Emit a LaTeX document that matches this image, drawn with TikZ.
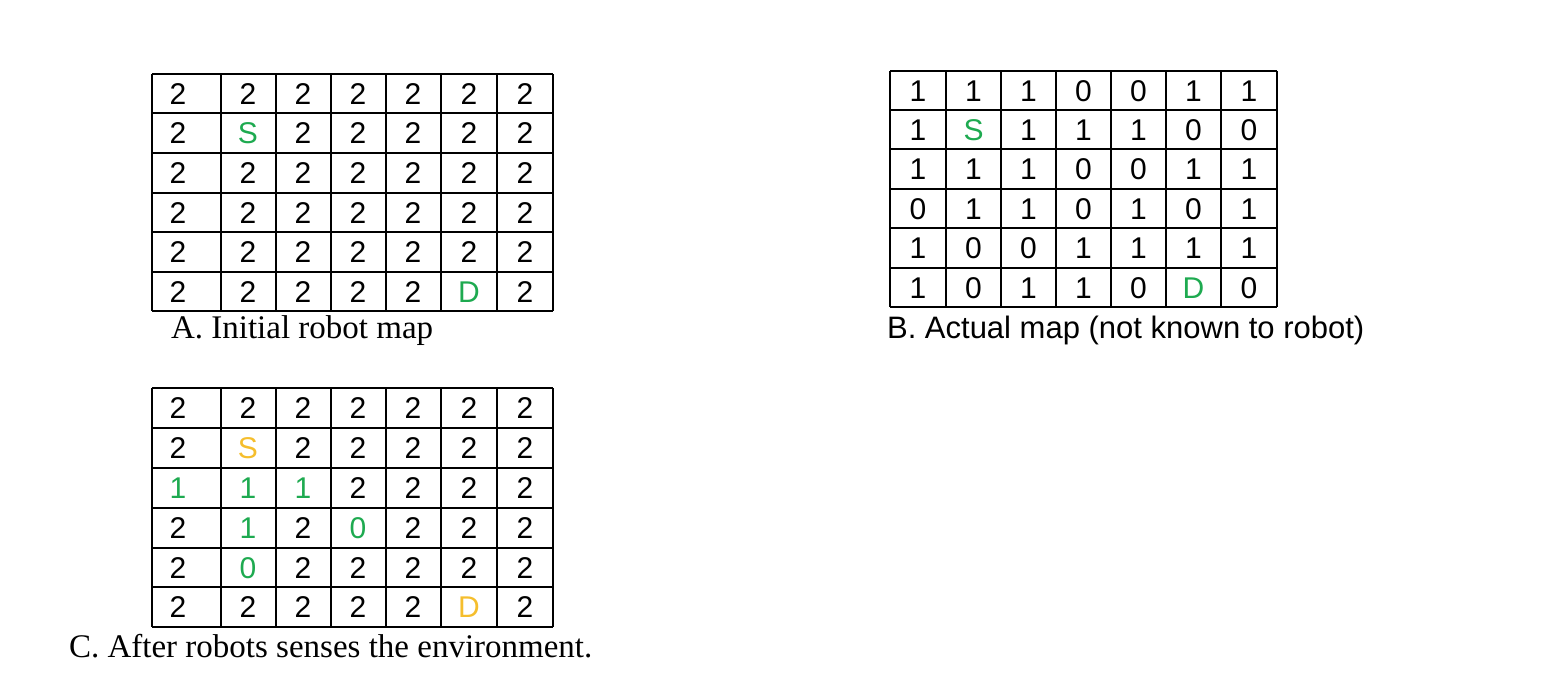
\documentclass[tikz,border=0pt]{standalone}
\usepackage{fontspec}
\setmainfont{Liberation Serif}
\newfontfamily\hv{Liberation Sans}
\definecolor{gr}{RGB}{30,170,80}
\definecolor{og}{RGB}{245,190,45}
\begin{document}
\begin{tikzpicture}[x=0.5pt,y=-0.5pt,
  cell/.style={font=\hv\fontsize{15}{15}\selectfont, anchor=center},
  captxt/.style={font=\fontsize{16.5}{17}\selectfont, anchor=west},
  gline/.style={line width=0.6pt}]
\useasboundingbox (0,0) rectangle (1568,686);
% Grid A
\foreach \x in {152,221,276,331,386,441,497,553} \draw[gline] (\x,74) -- (\x,311);
\foreach \y in {74,113,153,193,232,272,311} \draw[gline] (152,\y) -- (553,\y);
% Grid C
\foreach \x in {152,221,276,331,386,441,497,553} \draw[gline] (\x,388) -- (\x,627);
\foreach \y in {388,428,468,508,548,587,627} \draw[gline] (152,\y) -- (553,\y);
% Grid B
\foreach \x in {890,946,1001,1056,1111,1166,1221,1277} \draw[gline] (\x,71) -- (\x,307);
\foreach \y in {71,110,149,189,228,268,307} \draw[gline] (890,\y) -- (1277,\y);
% contents A
\foreach \r/\yc in {0/94,1/133,2/173,3/213,4/252,5/292}{
  \foreach \c/\xc in {0/178,1/248,2/303,3/358,4/413,5/469,6/525}{
    \pgfmathtruncatemacro{\k}{\r*10+\c}
    \ifnum\k=11 \node[cell,text=gr] (a\r\c) at (\xc,\yc) {S};
    \else\ifnum\k=55 \node[cell,text=gr] (a\r\c) at (\xc,\yc) {D};
    \else \node[cell] (a\r\c) at (\xc,\yc) {2};\fi\fi
  }}
\node[captxt] (capA) at (164,331) {A. Initial robot map};
% contents C
\foreach \r/\yc in {0/408,1/448,2/488,3/528,4/568,5/607}{
  \foreach \c/\xc in {0/178,1/248,2/303,3/358,4/413,5/469,6/525}{
    \pgfmathtruncatemacro{\k}{\r*10+\c}
    \ifnum\k=11 \node[cell,text=og] (c\r\c) at (\xc,\yc) {S};
    \else\ifnum\k=55 \node[cell,text=og] (c\r\c) at (\xc,\yc) {D};
    \else\ifnum\k=20 \node[cell,text=gr] (c\r\c) at (\xc,\yc) {1};
    \else\ifnum\k=21 \node[cell,text=gr] (c\r\c) at (\xc,\yc) {1};
    \else\ifnum\k=22 \node[cell,text=gr] (c\r\c) at (\xc,\yc) {1};
    \else\ifnum\k=31 \node[cell,text=gr] (c\r\c) at (\xc,\yc) {1};
    \else\ifnum\k=33 \node[cell,text=gr] (c\r\c) at (\xc,\yc) {0};
    \else\ifnum\k=41 \node[cell,text=gr] (c\r\c) at (\xc,\yc) {0};
    \else \node[cell] (c\r\c) at (\xc,\yc) {2};\fi\fi\fi\fi\fi\fi\fi\fi
  }}
\node[captxt] (capC) at (62,646) {C. After robots senses the environment.};
% contents B
\def\sS{S}\def\sD{D}
\foreach \r/\yc/\row in {0/91/{1,1,1,0,0,1,1},1/130/{1,S,1,1,1,0,0},2/169/{1,1,1,0,0,1,1},3/209/{0,1,1,0,1,0,1},4/248/{1,0,0,1,1,1,1},5/288/{1,0,1,1,0,D,0}}{
  \foreach \v [count=\c from 0] in \row {
    \pgfmathsetmacro{\xc}{{918,973.5,1028.5,1083.5,1138.5,1193.5,1249}[\c]}
    \edef\tmp{\v}
    \ifx\tmp\sS \node[cell,text=gr] (b\r\c) at (\xc,\yc) {S};
    \else\ifx\tmp\sD \node[cell,text=gr] (b\r\c) at (\xc,\yc) {D};
    \else \node[cell] (b\r\c) at (\xc,\yc) {\v};\fi\fi
  }}
\node[captxt,font=\hv\fontsize{15.5}{16}\selectfont] (capB) at (880,330) {B. Actual map (not known to robot)};
\end{tikzpicture}
\end{document}
